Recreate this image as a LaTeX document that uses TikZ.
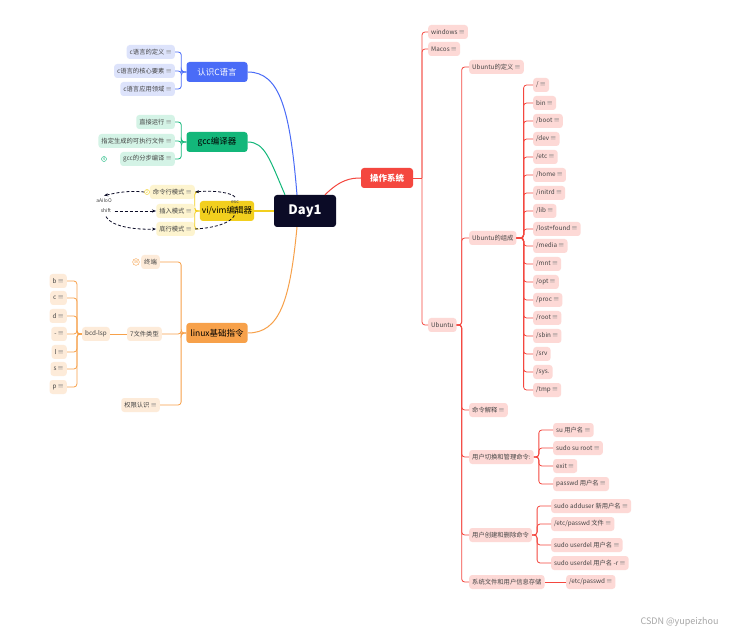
\documentclass[tikz,border=0pt]{standalone}
\usepackage{fontspec}
\setmainfont{Noto Sans CJK SC}
\usetikzlibrary{arrows.meta}
\definecolor{cblue}{HTML}{4A6CF7}\definecolor{lblue}{HTML}{DDE3FB}
\definecolor{cgreen}{HTML}{13B77A}\definecolor{lgreen}{HTML}{D4F3E6}
\definecolor{cyel}{HTML}{F2CF1E}\definecolor{lyel}{HTML}{FDF4CF}
\definecolor{corg}{HTML}{F7A14A}\definecolor{lorg}{HTML}{FDEBD9}
\definecolor{cred}{HTML}{F4473F}\definecolor{lred}{HTML}{FDD9D6}
\definecolor{navy}{HTML}{0B0B26}\definecolor{txt}{HTML}{444444}
\newcommand{\ic}{\,{\color{gray}≡}}
\tikzset{
 leaf/.style={rounded corners=3pt,inner xsep=3pt,inner ysep=0pt,minimum height=14pt,font=\fontsize{6.3}{7}\selectfont,text=txt},
 main/.style={rounded corners=3pt,minimum height=20pt,minimum width=61pt,inner xsep=4pt,font=\fontsize{8.5}{9}\selectfont},
 br/.style={line width=0.8pt,rounded corners=3pt},
 va/.style={densely dashed,thick,navy,-{Stealth[length=4pt]}}
}
\begin{document}
\begin{tikzpicture}[x=1pt,y=-1pt]
\fill[white] (0,0) rectangle (737,639);
% center
\node[fill=navy,text=white,rounded corners=3pt,minimum width=62pt,minimum height=32pt,font=\fontsize{13}{14}\selectfont\bfseries] (day) at (305,211) {Day1};
% left main
\node[main,fill=cblue,text=white] (c) at (217,72) {认识C语言};
\node[main,fill=cgreen] (g) at (217,142) {gcc编译器};
\node[main,fill=cyel,minimum width=42pt,inner xsep=2pt] (v) at (227,211) {vi/vim编辑器};
\node[main,fill=corg] (l) at (217,333) {linux基础指令};
\node[main,fill=cred,text=white,minimum width=52pt,font=\fontsize{8.5}{9}\selectfont\bfseries] (os) at (387,178) {操作系统};
\draw[cblue,line width=1pt] ([xshift=-8pt]day.north) .. controls (290,110) and (280,72) .. (c.east);
\draw[cgreen,line width=1pt] ([xshift=-20pt]day.north) .. controls (270,160) and (265,142) .. (g.east);
\draw[cyel,line width=1.5pt] (day.west) -- (v.east);
\draw[corg,line width=1pt] ([xshift=-8pt]day.south) .. controls (290,300) and (280,333) .. (l.east);
\draw[cred,line width=1pt] ([xshift=20pt]day.north) .. controls (340,180) and (350,178) .. (os.west);
% C leaves
\foreach \n/\t/\y in {c1/c语言的定义/52,c2/c语言的核心要素/71,c3/c语言应用领域/89}{
 \node[leaf,fill=lblue,anchor=east] (\n) at (175,\y) {\t\ic};
 \draw[br,cblue] (c.west) -- ++(-5,0) |- (\n.east);}
\foreach \n/\t/\y in {g1/直接运行/122,g2/指定生成的可执行文件/141,g3/gcc的分步编译/159}{
 \node[leaf,fill=lgreen,anchor=east] (\n) at (175,\y) {\t\ic};
 \draw[br,cgreen] (g.west) -- ++(-5,0) |- (\n.east);}
\node[circle,draw=cgreen,inner sep=0.5pt,font=\fontsize{4}{4}\selectfont,text=cgreen] (g3c) at (104,159) {4};
\foreach \n/\t/\y in {v1/命令行模式/192,v2/插入模式/211,v3/底行模式/229}{
 \node[leaf,fill=lyel,anchor=east] (\n) at (195,\y) {\t\ic};
 \draw[br,cyel] (v.west) -- ++(-5,0) |- (\n.east);}
\node[circle,draw=cyel,inner sep=0.5pt,font=\fontsize{4}{4}\selectfont,text=cyel] (v1c) at (147,192) {2};
\node[font=\fontsize{5}{5}\selectfont,text=txt] (keys) at (104,201) {aAiIoO};
\node[font=\fontsize{5}{5}\selectfont,text=txt] (shift) at (106,211) {shift};
\node[font=\fontsize{5}{5}\selectfont,text=txt] (esc) at (235,202) {esc};
\draw[va] (esc.north) .. controls (232,193) and (215,190) .. (v1.east);
\draw[va] (v1c.west) .. controls (125,190) and (112,194) .. (keys.north);
\draw[va] (shift.east) -- (v2.west);
\draw[va] (shift.south) .. controls (110,225) and (130,230) .. (v3.west);
\draw[densely dashed,thick,navy] (v3.east) .. controls (215,228) and (240,222) .. (esc.south);
% linux
\node[leaf,fill=lorg,anchor=east] (l1) at (160,262) {终端};
\node[circle,draw=corg,inner sep=0.5pt,font=\fontsize{4}{4}\selectfont,text=corg] (l1c) at (136,262) {36};
\node[leaf,fill=lorg,anchor=east] (l2) at (162,334) {7文件类型};
\node[leaf,fill=lorg,anchor=east] (l3) at (160,405) {权限认识\ic};
\foreach \n in {l1,l2,l3}{\draw[br,corg] (l.west) -- ++(-5,0) |- (\n.east);}
\node[leaf,fill=lorg,anchor=east] (bcd) at (110,334) {bcd-lsp};
\draw[br,corg] (l2.west) -- (bcd.east);
\foreach \n/\t/\y in {k1/b/281,k2/c/298,k3/d/316,k4/-/334,k5/l/352,k6/s/369,k7/p/387}{
 \node[leaf,fill=lorg,anchor=east] (\n) at (67,\y) {\t\ic};
 \draw[br,corg] (bcd.west) -- ++(-5,0) |- (\n.east);}
% right side
\coordinate (osj) at (422,178);
\foreach \n/\t/\y in {o1/windows/32,o2/Macos/49}{
 \node[leaf,fill=lred,anchor=west] (\n) at (428,\y) {\t\ic};}
\node[leaf,fill=lred,anchor=west] (o3) at (428,325) {Ubuntu};
\draw[br,cred] (os.east) -- (osj);
\foreach \n in {o1,o2,o3}{\draw[br,cred] (osj) |- (\n.west);}
\foreach \n/\t/\y in {u1/{Ubuntu的定义\ic}/67,u2/{Ubuntu的组成}/238,u3/{命令解释\ic}/410,u4/{用户切换和管理命令:}/457,u5/{用户创建和删除命令}/535,u6/{系统文件和用户信息存储}/582}{
 \node[leaf,fill=lred,anchor=west] (\n) at (469,\y) {\t};
 \draw[br,cred] (o3.east) -- ++(5,0) |- (\n.west);}
\foreach \n/\t/\y in {d1/{/}/85,d2/bin/103,d3/{/boot}/121,d4/{/dev}/139,d5/{/etc}/157,d6/{/home}/175,d7/{/initrd}/193,d8/{/lib}/211,d9/{/lost+found}/229,d10/{/media}/246,d11/{/mnt}/264,d12/{/opt}/282,d13/{/proc}/300,d14/{/root}/318,d15/{/sbin}/336}{
 \node[leaf,fill=lred,anchor=west] (\n) at (533,\y) {\t\ic};
 \draw[br,cred] (u2.east) -- ++(7,0) |- (\n.west);}
\foreach \n/\t/\y in {d16/{/srv}/354,d17/{/sys.}/372}{
 \node[leaf,fill=lred,anchor=west] (\n) at (533,\y) {\t};
 \draw[br,cred] (u2.east) -- ++(7,0) |- (\n.west);}
\node[leaf,fill=lred,anchor=west] (d18) at (533,390) {/tmp\ic};
\draw[br,cred] (u2.east) -- ++(7,0) |- (d18.west);
\foreach \n/\t/\y in {s1/{su 用户名}/430,s2/{sudo su root}/448,s3/exit/466,s4/{passwd 用户名}/484}{
 \node[leaf,fill=lred,anchor=west] (\n) at (553,\y) {\t\ic};
 \draw[br,cred] (u4.east) -- ++(5,0) |- (\n.west);}
\foreach \n/\t/\y in {a1/{sudo adduser 新用户名}/506,a2/{/etc/passwd 文件}/524,a3/{sudo userdel 用户名}/545,a4/{sudo userdel 用户名 -r}/563}{
 \node[leaf,fill=lred,anchor=west] (\n) at (551,\y) {\t\ic};
 \draw[br,cred] (u5.east) -- ++(5,0) |- (\n.west);}
\node[leaf,fill=lred,anchor=west] (p1) at (566,582) {/etc/passwd\ic};
\draw[br,cred] (u6.east) -- (p1.west);
\node[font=\fontsize{9}{10}\selectfont,text=gray!70,anchor=east] (wm) at (722,622) {CSDN @yupeizhou};
\end{tikzpicture}
\end{document}
